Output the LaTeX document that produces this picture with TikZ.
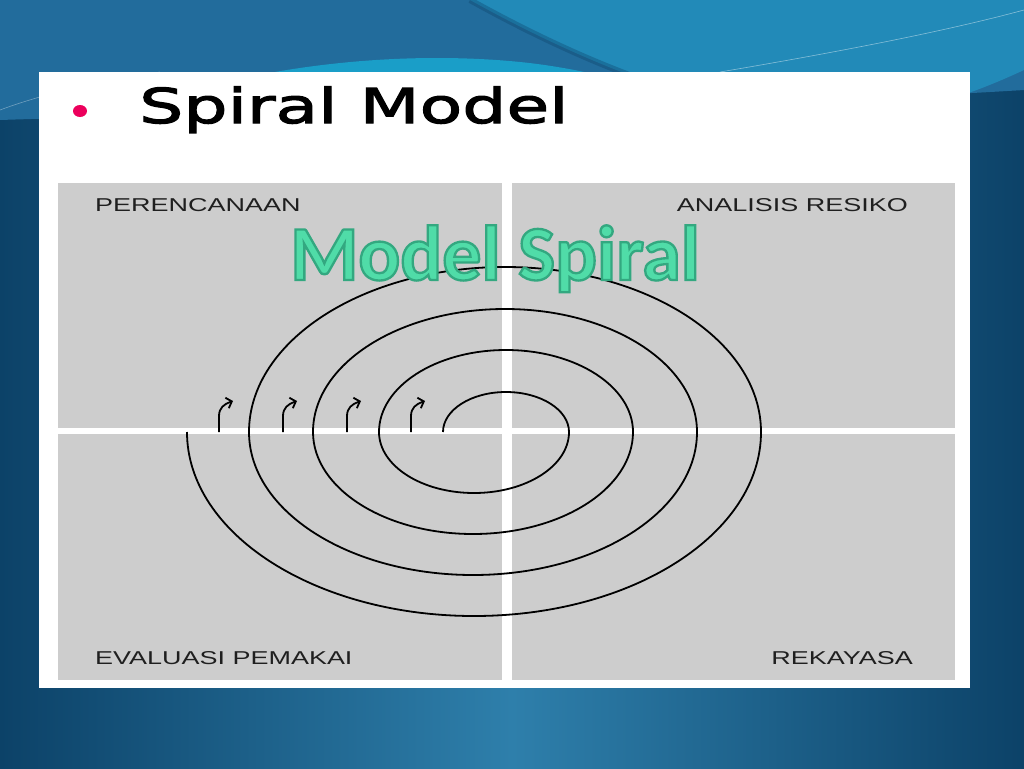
\documentclass[tikz,border=0pt]{standalone}
\usepackage{fontspec}
\usetikzlibrary{arrows.meta}
\newfontfamily\labelfont[FakeStretch=1.45]{Liberation Sans}
\newfontfamily\headfont[FakeStretch=1.45,FakeBold=2.5]{DejaVu Sans}
\newfontfamily\artfont[BoldFeatures={FakeBold=3}]{Carlito}
\definecolor{bgedge}{RGB}{12,66,104}
\definecolor{bgmid}{RGB}{46,127,171}
\definecolor{bgtop}{RGB}{34,108,156}
\definecolor{wavecyan}{RGB}{26,158,200}
\definecolor{waveteal}{RGB}{34,138,184}
\definecolor{quadgray}{RGB}{205,205,205}
\definecolor{bulletpink}{RGB}{236,0,92}
\definecolor{artfill}{RGB}{80,220,168}
\begin{document}
\begin{tikzpicture}[x=1pt,y=-1pt,
		quad/.style={fill=quadgray},
		phase/.style={font=\labelfont\fontsize{18.6}{20}\selectfont, text=black!88, inner sep=0pt},
		art/.style={font=\artfont\bfseries\fontsize{78}{78}\selectfont, anchor=base, inner sep=0pt},
		spiral/.style={line width=1.8pt, black},
		turn/.style={line width=1.8pt, black, -{Straight Barb[length=5pt,width=11pt]}}]
		\useasboundingbox (0,0) rectangle (1024,768);

		\shade [left color=bgedge, right color=bgedge, middle color=bgmid] (0,0) rectangle (1024,768);
		\fill [bgtop] (0,0) -- (1024,0) -- (1024,90) .. controls (700,110) and (300,110) .. (0,120) -- cycle;
		\fill [wavecyan] (60,140) .. controls (200,70) and (380,48) .. (520,62) .. controls (620,72) and (720,110) .. (800,140) -- cycle;
		\fill [waveteal] (470,0) .. controls (560,50) and (680,105) .. (800,118) .. controls (880,126) and (960,100) .. (1024,70) -- (1024,0) -- cycle;
		\draw [bgedge, line width=6pt, opacity=0.35] (470,0) .. controls (560,50) and (680,105) .. (800,118);
		\draw [white, opacity=0.45, line width=0.6pt] (720,72) .. controls (850,50) and (950,30) .. (1024,10);
		\draw [white, opacity=0.35, line width=0.6pt] (0,110) .. controls (40,95) and (100,80) .. (160,72);

		\fill [white] (39,72) rectangle (970,688);

		\fill [bulletpink] (80,111) circle [x radius=7, y radius=6];
		\node [anchor=base west, inner sep=0pt, font=\headfont\fontsize{48}{50}\selectfont] (head) at (139,123) {Spiral Model};

		\fill [quad]	(58,183) rectangle (502,428);
		\fill [quad]	(512,183) rectangle (955,428);
		\fill [quad]	(58,434) rectangle (502,680);
		\fill [quad]	(512,434) rectangle (955,680);

		\node [phase, anchor=base west] (plan) at (95,211) {PERENCANAAN};
		\node [phase, anchor=base east] (risk) at (908,211) {ANALISIS RESIKO};
		\node [phase, anchor=base west] (eval) at (95,664) {EVALUASI PEMAKAI};
		\node [phase, anchor=base east] (build) at (913,664) {REKAYASA};

		\draw [spiral] (443,432)
			arc [start angle=180, end angle=360, x radius=63, y radius=40]
			arc [start angle=0, end angle=180, x radius=95, y radius=61]
			arc [start angle=180, end angle=360, x radius=127, y radius=82]
			arc [start angle=0, end angle=180, x radius=160, y radius=102]
			arc [start angle=180, end angle=360, x radius=192, y radius=123]
			arc [start angle=0, end angle=180, x radius=224, y radius=143]
			arc [start angle=180, end angle=360, x radius=256, y radius=165]
			arc [start angle=0, end angle=180, x radius=287, y radius=184];

		\draw [turn] (219,432) -- (219,416) .. controls (219,408) and (224,404) .. (233,401);
		\draw [turn] (283,432) -- (283,416) .. controls (283,408) and (288,404) .. (297,401);
		\draw [turn] (347,432) -- (347,416) .. controls (347,408) and (352,404) .. (361,401);
		\draw [turn] (411,432) -- (411,416) .. controls (411,408) and (416,404) .. (425,401);

		\node [art, text=artfill] (wordart) at (495,280) {\special{pdf:literal direct 0.2 0.66 0.5 RG}Model Spiral};
	\end{tikzpicture}
\end{document}
